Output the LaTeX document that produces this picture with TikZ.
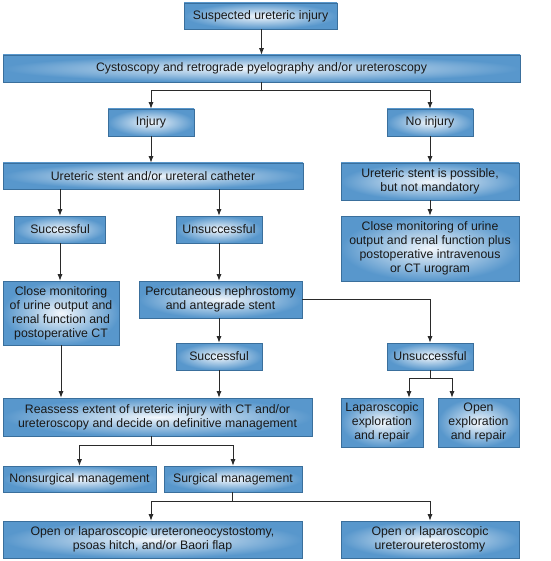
\documentclass[tikz,border=0pt]{standalone}
\usepackage{fontspec}
\setmainfont{Liberation Sans}
\usetikzlibrary{arrows.meta}
\definecolor{boxedge}{HTML}{5897CC}
\definecolor{boxcore}{HTML}{F2F7FC}
\definecolor{boxline}{HTML}{3A6F9C}
\definecolor{linecol}{HTML}{2A2A2A}
\tikzset{
  box/.style={draw=boxline, line width=0.6pt, inner sep=0pt, align=center,
    shading=radial, inner color=boxcore, outer color=boxedge,
    font=\fontsize{12.3}{14}\selectfont, text=black!90},
  arr/.style={draw=linecol, line width=0.9pt, -{Latex[length=6.5pt,width=5pt]}},
  ln/.style={draw=linecol, line width=0.9pt}
}
\begin{document}
\begin{tikzpicture}[x=1pt,y=-1pt]
\useasboundingbox (0,0) rectangle (550,561);
\node[box, minimum width=153pt, minimum height=26pt] (s1) at (260.5,16) {Suspected ureteric injury};
\node[box, minimum width=517pt, minimum height=27pt] (s2) at (261.5,68.5) {Cystoscopy and retrograde pyelography and/or ureteroscopy};
\node[box, minimum width=86pt, minimum height=27pt] (inj) at (151,122.5) {Injury};
\node[box, minimum width=86pt, minimum height=27pt] (noinj) at (430,122.5) {No injury};
\node[box, minimum width=300pt, minimum height=26pt] (stent) at (153,176) {Ureteric stent and/or ureteral catheter};
\node[box, minimum width=178pt, minimum height=37pt] (stentpos) at (430,181.5) {Ureteric stent is possible,\\but not mandatory};
\node[box, minimum width=178pt, minimum height=65pt] (closeR) at (430,248.5) {Close monitoring of urine\\output and renal function plus\\postoperative intravenous\\or CT urogram};
\node[box, minimum width=91pt, minimum height=27pt] (succA) at (60,229.5) {Successful};
\node[box, minimum width=86pt, minimum height=27pt] (unsuccA) at (219,229.5) {Unsuccessful};
\node[box, minimum width=116pt, minimum height=64pt] (closeL) at (61,313) {Close monitoring\\of urine output and\\renal function and\\postoperative CT};
\node[box, minimum width=163pt, minimum height=37pt] (perc) at (220.5,299.5) {Percutaneous nephrostomy\\and antegrade stent};
\node[box, minimum width=86pt, minimum height=27pt] (succB) at (219,356.5) {Successful};
\node[box, minimum width=86pt, minimum height=27pt] (unsuccB) at (430,356.5) {Unsuccessful};
\node[box, minimum width=309pt, minimum height=38pt] (reas) at (157.5,417) {Reassess extent of ureteric injury with CT and/or\\ureteroscopy and decide on definitive management};
\node[box, minimum width=82pt, minimum height=49pt] (lap) at (382,422.5) {Laparoscopic\\exploration\\and repair};
\node[box, minimum width=81pt, minimum height=49pt] (open) at (478.5,422.5) {Open\\exploration\\and repair};
\node[box, minimum width=153pt, minimum height=26pt] (nons) at (79.5,479) {Nonsurgical management};
\node[box, minimum width=138pt, minimum height=26pt] (surg) at (233,479) {Surgical management};
\node[box, minimum width=299pt, minimum height=37pt] (neo) at (152.5,539.5) {Open or laparoscopic ureteroneocystostomy,\\psoas hitch, and/or Baori flap};
\node[box, minimum width=178pt, minimum height=37pt] (uu) at (430,539.5) {Open or laparoscopic\\ureteroureterostomy};

\draw[arr] (s1.south -| s2.north) -- (s2.north);
\draw[arr] (s2.south) -- ++(0,8) -| (inj.north);
\draw[arr] (s2.south) -- ++(0,8) -| (noinj.north);
\draw[arr] (inj.south) -- (inj.south |- stent.north);
\draw[arr] (noinj.south) -- (stentpos.north);
\draw[arr] (stentpos.south) -- (closeR.north);
\draw[arr] (succA.north |- stent.south) -- (succA.north);
\draw[arr] (unsuccA.north |- stent.south) -- (unsuccA.north);
\draw[arr] (succA.south) -- (succA.south |- closeL.north);
\draw[arr] (unsuccA.south) -- (unsuccA.south |- perc.north);
\draw[arr] (succB.north |- perc.south) -- (succB.north);
\draw[arr] (perc.east) -| (unsuccB.north);
\draw[arr] (closeL.south) -- (closeL.south |- reas.north);
\draw[arr] (succB.south) -- (succB.south |- reas.north);
\coordinate (uj) at ([yshift=-8pt]unsuccB.south);
\draw[ln] (unsuccB.south) -- (uj);
\draw[arr] (uj) -| ([xshift=27pt]lap.north);
\draw[arr] (uj) -| ([xshift=-26.5pt]open.north);
\coordinate (rs) at ([xshift=-6.5pt]reas.south);
\draw[arr] (rs) -- ++(0,9) -| (nons.north);
\draw[arr] (rs) -- ++(0,9) -| (surg.north);
\coordinate (ss) at ([xshift=-1pt]surg.south);
\draw[arr] (ss) -- ++(0,9) -| ([xshift=-1.5pt]neo.north);
\draw[arr] (ss) -- ++(0,9) -| (uu.north);
\end{tikzpicture}
\end{document}
